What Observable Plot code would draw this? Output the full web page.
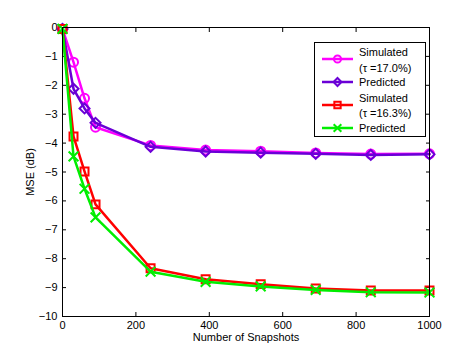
<!DOCTYPE html>
<html>
<head>
<meta charset="utf-8">
<script src="https://cdn.jsdelivr.net/npm/d3@7"></script>
<script src="https://cdn.jsdelivr.net/npm/@observablehq/plot@0.6"></script>
<style>
body { margin: 0; background: #fff; }
#wrap { position: relative; width: 474px; height: 355px; font-family: "Liberation Sans", Arial, sans-serif; }
#legend { position: absolute; left: 314px; top: 42px; }
</style>
</head>
<body>
<div id="wrap"></div>
<script>
const snapshots = [0, 30, 60, 90, 240, 390, 540, 690, 840, 1000];
const sim17  = [-0.05, -1.2, -2.45, -3.45, -4.08, -4.24, -4.28, -4.34, -4.38, -4.37];
const pred17 = [-0.05, -2.12, -2.8, -3.3, -4.13, -4.29, -4.33, -4.37, -4.41, -4.39];
const sim163 = [-0.05, -3.77, -4.98, -6.12, -8.33, -8.71, -8.88, -9.03, -9.1, -9.1];
const pred163 = [-0.05, -4.46, -5.58, -6.57, -8.45, -8.8, -8.96, -9.08, -9.16, -9.17];
const xTicks = [0, 200, 400, 600, 800, 1000];
const yTicks = [0, -1, -2, -3, -4, -5, -6, -7, -8, -9, -10];

const series = [
  {name: "Simulated (τ =17.0%)", values: sim17, color: "#ff00ff", symbol: "circle"},
  {name: "Predicted", values: pred17, color: "#6a00d6", symbol: "diamond2"},
  {name: "Simulated (τ =16.3%)", values: sim163, color: "#ff0000", symbol: "square"},
  {name: "Predicted ", values: pred163, color: "#00ee00", symbol: "times"}
];

const marks = [];
for (const s of series) {
  const rows = snapshots.map((x, i) => ({x, y: s.values[i]}));
  marks.push(Plot.line(rows, {x: "x", y: "y", stroke: s.color, strokeWidth: 2.5}));
  marks.push(Plot.dot(rows, {x: "x", y: "y", stroke: s.color, symbol: s.symbol, r: 4.5, strokeWidth: 2, fill: "none"}));
}

const chart = Plot.plot({
  width: 474,
  height: 355,
  marginLeft: 62,
  marginRight: 45,
  marginTop: 27,
  marginBottom: 39,
  style: {fontFamily: "Liberation Sans, Arial, sans-serif", fontSize: "11px", color: "#000", background: "#fff"},
  x: {domain: [0, 1000]},
  y: {domain: [-10, 0]},
  marks: [
    Plot.axisX(xTicks, {anchor: "bottom", tickSize: -4, tickPadding: 9, tickFormat: "d", label: "Number of Snapshots", labelAnchor: "center", labelArrow: "none", labelOffset: 24}),
    Plot.axisX(xTicks, {anchor: "top", tickSize: -4, tickFormat: () => "", label: null}),
    Plot.axisY(yTicks, {anchor: "left", tickSize: -4, tickPadding: 9, label: "MSE (dB)", labelAnchor: "center", labelArrow: "none", labelOffset: 36}),
    Plot.axisY(yTicks, {anchor: "right", tickSize: -4, tickFormat: () => "", label: null}),
    ...marks,
    Plot.frame({stroke: "#000", strokeWidth: 1})
  ]
});
document.getElementById("wrap").appendChild(chart);

// Legend
const legend = d3.select("#wrap").append("svg")
  .attr("id", "legend").attr("width", 112).attr("height", 95);
legend.append("rect").attr("x", 0.5).attr("y", 0.5).attr("width", 111).attr("height", 94)
  .attr("fill", "#fff").attr("stroke", "#000");
const entries = [
  {s: series[0], lines: ["Simulated", "(τ =17.0%)"], ty: [10, 26], sy: 17},
  {s: series[1], lines: ["Predicted"], ty: [40], sy: 40},
  {s: series[2], lines: ["Simulated", "(τ =16.3%)"], ty: [56, 71], sy: 63},
  {s: series[3], lines: ["Predicted"], ty: [86], sy: 86}
];
const symMap = {circle: d3.symbolCircle, diamond2: d3.symbolDiamond2, square: d3.symbolSquare, times: d3.symbolTimes};
for (const e of entries) {
  legend.append("line").attr("x1", 8).attr("x2", 39).attr("y1", e.sy).attr("y2", e.sy)
    .attr("stroke", e.s.color).attr("stroke-width", 2.5);
  legend.append("path").attr("d", d3.symbol(symMap[e.s.symbol], 40)())
    .attr("transform", `translate(23.5,${e.sy})`)
    .attr("fill", "none").attr("stroke", e.s.color).attr("stroke-width", 2);
  e.lines.forEach((t, i) => {
    legend.append("text").attr("x", 45).attr("y", e.ty[i]).attr("dy", "0.35em")
      .attr("font-size", 11).attr("font-family", "Liberation Sans, Arial, sans-serif").text(t);
  });
}
</script>
</body>
</html>
